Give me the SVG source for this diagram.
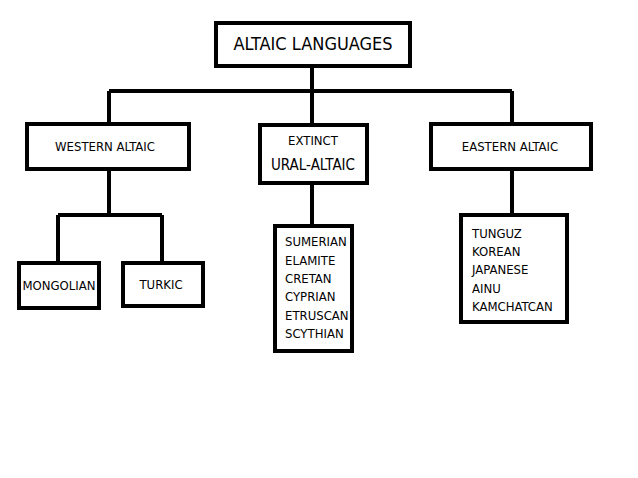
<svg xmlns="http://www.w3.org/2000/svg" width="638" height="478" viewBox="0 0 638 478">
<style>
.b{fill:#fff;stroke:#000;stroke-width:4}
.l{fill:none;stroke:#000;stroke-width:4}
text{font-family:"DejaVu Sans Condensed","Liberation Sans",sans-serif;font-stretch:condensed;font-size:13px;fill:#000}
</style>
<rect width="638" height="478" fill="#fff"/>
<g id="connectors">
<path class="l" d="M312 66V91M109 91H512M109 91V124M312 91V125M512 91V124"/>
<path class="l" d="M109 169V215M58 215H162M58 215V263M162 215V263"/>
<path class="l" d="M312 183V226M512 169V215"/>
</g>
<g id="root"><rect class="b" x="216" y="23" width="194" height="43"/><text x="313" y="45" text-anchor="middle" dominant-baseline="middle" style="font-size:18px">ALTAIC LANGUAGES</text></g>
<g id="western"><rect class="b" x="27" y="124" width="162" height="45"/><text x="105" y="147" text-anchor="middle" dominant-baseline="middle">WESTERN  ALTAIC</text></g>
<g id="extinct"><rect class="b" x="260" y="125" width="107" height="58"/><text x="313" y="141" text-anchor="middle" dominant-baseline="middle">EXTINCT</text><text x="313" y="165" text-anchor="middle" dominant-baseline="middle" style="font-size:15px">URAL-ALTAIC</text></g>
<g id="eastern"><rect class="b" x="431" y="124" width="160" height="45"/><text x="510" y="147" text-anchor="middle" dominant-baseline="middle">EASTERN  ALTAIC</text></g>
<g id="mongolian"><rect class="b" x="19" y="263" width="80" height="45"/><text x="59" y="286" text-anchor="middle" dominant-baseline="middle">MONGOLIAN</text></g>
<g id="turkic"><rect class="b" x="123" y="263" width="80" height="43"/><text x="161" y="285" text-anchor="middle" dominant-baseline="middle">TURKIC</text></g>
<g id="extinct-list"><rect class="b" x="275" y="226" width="77" height="125"/>
<text x="285" y="242" dominant-baseline="middle">SUMERIAN</text><text x="285" y="261" dominant-baseline="middle">ELAMITE</text><text x="285" y="279" dominant-baseline="middle">CRETAN</text><text x="285" y="297" dominant-baseline="middle">CYPRIAN</text><text x="285" y="316" dominant-baseline="middle">ETRUSCAN</text><text x="285" y="334" dominant-baseline="middle">SCYTHIAN</text></g>
<g id="eastern-list"><rect class="b" x="461" y="215" width="106" height="107"/>
<text x="472" y="234" dominant-baseline="middle">TUNGUZ</text><text x="472" y="252" dominant-baseline="middle">KOREAN</text><text x="472" y="270" dominant-baseline="middle">JAPANESE</text><text x="472" y="289" dominant-baseline="middle">AINU</text><text x="472" y="307" dominant-baseline="middle">KAMCHATCAN</text></g>
</svg>
